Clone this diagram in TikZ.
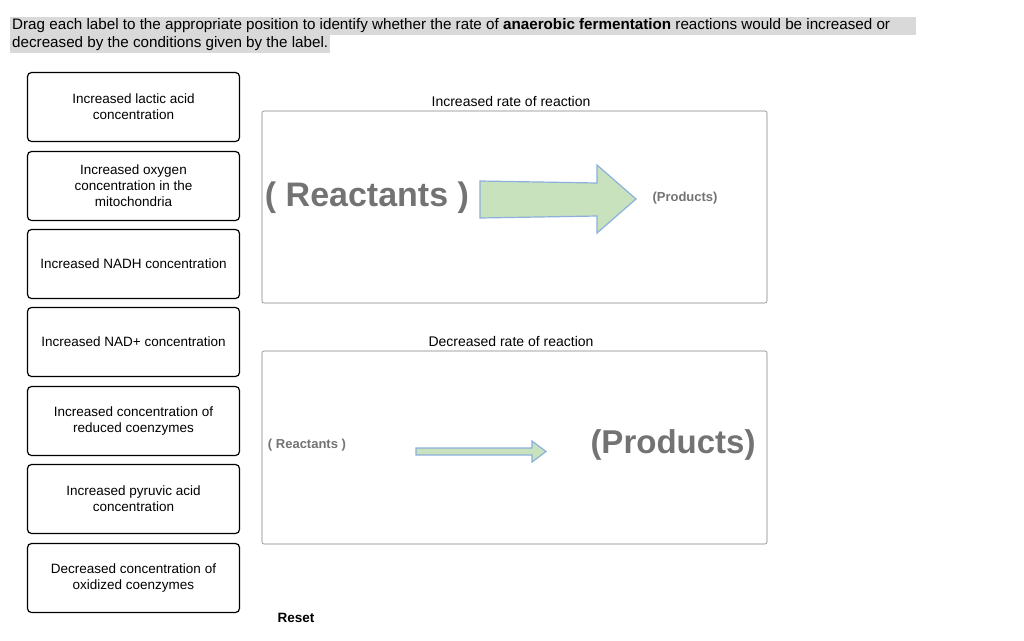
\documentclass[tikz,border=0pt]{standalone}
\usepackage{fontspec}
\setmainfont{Liberation Sans}
\definecolor{ab}{RGB}{140,175,220}
\definecolor{ag}{RGB}{200,226,190}
\begin{document}
\begin{tikzpicture}[x=1pt,y=-1pt,
 lab/.style={draw=black,line width=1.2pt,rounded corners=4pt,minimum width=212pt,minimum height=69pt,align=center,font=\fontsize{13.5}{16}\selectfont,inner sep=2pt},
 panel/.style={draw=black!50,line width=0.6pt,rounded corners=2pt},
 ttl/.style={font=\fontsize{14}{16}\selectfont},
 arr/.style={draw=ab,fill=ag,line width=1.2pt,line join=miter},
 gt/.style={text=black!55,font=\bfseries}]
\useasboundingbox (0,0) rectangle (1024,640);
\fill[black!15] (10,17) rectangle (916,35);
\fill[black!15] (10,35) rectangle (330,53);
\node[anchor=west,inner sep=0,font=\fontsize{15.2}{18}\selectfont] (h1) at (12,26) {Drag each label to the appropriate position to identify whether the rate of \textbf{anaerobic fermentation} reactions would be increased or};
\node[anchor=west,inner sep=0,font=\fontsize{15.2}{18}\selectfont] (h2) at (12,44) {decreased by the conditions given by the label.};
\foreach \y/\t/\n in {107/{Increased lactic acid\\concentration}/l1,
 186/{Increased oxygen\\concentration in the\\mitochondria}/l2,
 264/{Increased NADH concentration}/l3,
 342/{Increased NAD+ concentration}/l4,
 421/{Increased concentration of\\reduced coenzymes}/l5,
 499/{Increased pyruvic acid\\concentration}/l6,
 578/{Decreased concentration of\\oxidized coenzymes}/l7}
 {\node[lab] (\n) at (133.5,\y) {\t};}
\draw[panel] (262,111) rectangle (767,303);
\draw[panel] (262,351) rectangle (767,544);
\node[ttl] (t1) at (511,101) {Increased rate of reaction};
\node[ttl] (t2) at (511,341) {Decreased rate of reaction};
\node[gt,font=\fontsize{34}{36}\selectfont\bfseries] (r1) at (367,198) {( Reactants )};
\node[gt,font=\fontsize{13}{14}\selectfont\bfseries] (p1) at (685,198) {(Products)};
\draw[arr] (480,181) -- (597,183) -- (597,165) -- (636,199) -- (597,233) -- (597,216) -- (480,218) -- cycle;
\node[gt,font=\fontsize{13}{14}\selectfont\bfseries] (r2) at (307,445) {( Reactants )};
\node[gt,font=\fontsize{33}{34}\selectfont\bfseries] (p2) at (673,445) {(Products)};
\draw[arr] (416,448) -- (532,448) -- (532,441) -- (546,451.5) -- (532,462) -- (532,455) -- (416,455) -- cycle;
\node[font=\fontsize{13.5}{14}\selectfont\bfseries] (reset) at (296,618) {Reset};
\end{tikzpicture}
\end{document}
